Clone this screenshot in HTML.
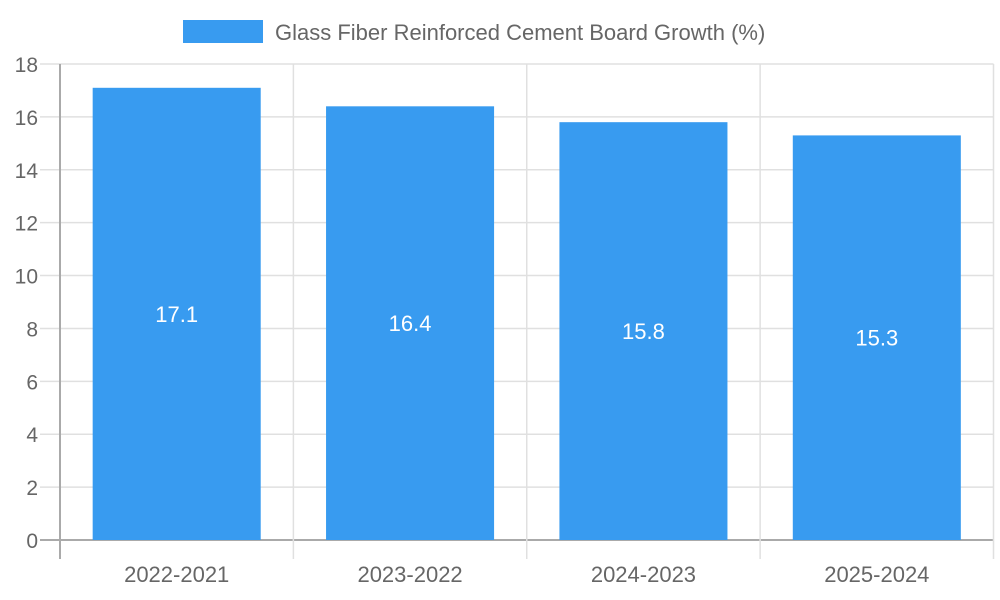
<!DOCTYPE html>
<html><head><meta charset="utf-8"><style>
body{margin:0;background:#fff;}
svg{display:block;font-family:"Liberation Sans",sans-serif;}
</style></head><body>
<svg id="chart" width="1000" height="600"></svg>
<script>
const categories=["2022-2021","2023-2022","2024-2023","2025-2024"];
const values=[17.1,16.4,15.8,15.3];
const yTicks=[0,2,4,6,8,10,12,14,16,18];
const NS="http://www.w3.org/2000/svg";
const svg=document.getElementById('chart');
const L=60,R=993.5,T=64,B=540,yMax=18;
const y=v=>B-(v/yMax)*(B-T);
const bw=(R-L)/categories.length;
const x=i=>L+bw*i;
function mk(t,a,p){const e=document.createElementNS(NS,t);for(const k in a)e.setAttribute(k,a[k]);(p||svg).appendChild(e);return e;}
const grid=mk('g',{});


yTicks.forEach(v=>{
  mk('line',{x1:40,x2:R,y1:y(v),y2:y(v),stroke:v===0?'#aaa':'#e0e0e0','stroke-width':v===0?2:1.5},grid);
  const t=mk('text',{x:38,y:y(v)+8,'text-anchor':'end','font-size':21,fill:'#666'});
  t.textContent=v;
  
  
});
for(let i=0;i<=categories.length;i++){
  mk('line',{x1:x(i),x2:x(i),y1:T,y2:559,stroke:i===0?'#aaa':'#e0e0e0','stroke-width':i===0?2:1.5},grid);
}
categories.forEach((c,i)=>{
  const cx=x(i)+bw/2, w=bw*0.72;
  const r=mk('rect',{x:cx-w/2,y:y(values[i]),width:w,height:B-y(values[i]),fill:'#389bf0'});
  
  
  const lt=mk('text',{x:cx,y:(y(values[i])+B)/2+8,'text-anchor':'middle','font-size':22,fill:'#fff'});
  lt.textContent=values[i];
  
  
  const xt=mk('text',{x:cx,y:582,'text-anchor':'middle','font-size':22,fill:'#666'});
  xt.textContent=c;
  
  
});
const lg=mk('g',{});


mk('rect',{x:183,y:20,width:80,height:23,fill:'#389bf0'},lg);
const ltx=mk('text',{x:275,y:40,'font-size':22,fill:'#666'},lg);
ltx.textContent='Glass Fiber Reinforced Cement Board Growth (%)';
</script>
</body></html>
